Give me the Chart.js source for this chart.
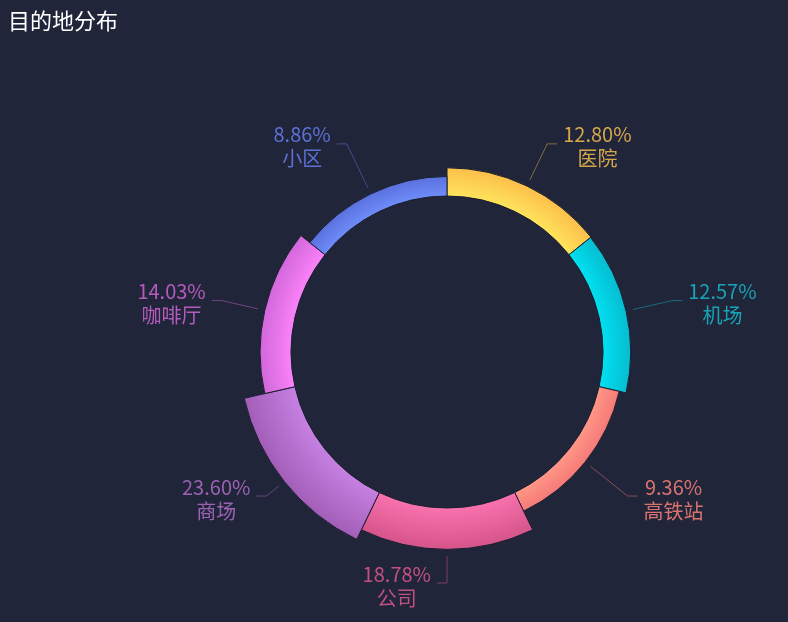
<!DOCTYPE html>
<html lang="zh-CN">
<head>
<meta charset="utf-8">
<title>目的地分布</title>
<script src="https://cdn.jsdelivr.net/npm/chart.js@4.4.0/dist/chart.umd.min.js"></script>
<style>
  html, body { margin: 0; padding: 0; background: #20253a; }
  #wrap { position: relative; width: 788px; height: 622px; }
</style>
</head>
<body>
<div id="wrap"><canvas id="destChart" width="788" height="622"></canvas></div>
<script>
// ── 데이터 (12시 방향부터 시계방향) ─────────────────────────
const titleText = '目的地分布';
const categories = ['医院', '机场', '高铁站', '公司', '商场', '咖啡厅', '小区'];
const shares = [12.80, 12.57, 9.36, 18.78, 23.60, 14.03, 8.86];

// 안쪽(밝음) → 바깥쪽(어두움) 그라데이션
const innerColors = ['#ffe35c', '#00e0f0', '#ff9686', '#f872ad', '#c680e2', '#fa82f8', '#6e8cf8'];
const outerColors = ['#fcbf4a', '#07bcd0', '#f57a78', '#d5548a', '#a25eb7', '#d267db', '#5a71de'];
const labelColors = ['#d6a74a', '#17a4b6', '#d9736f', '#c25080', '#9c62b2', '#b45bbd', '#5d70d4'];

const FONT = '"Noto Sans CJK SC", "Noto Sans", sans-serif';
const LINE1 = 23;   // 가장 큰 링 바깥으로 꺾이는 지점까지
const LINE2 = 10;   // 수평 구간

(function() {
  'use strict';

  const max = Math.max(...shares);
  // 반지름 축: 0 값이 안쪽 원(75%)에 오도록 음수 min
  const rMin = -max * 3;

  // rose(area) 스타일: 안쪽 반지름 고정 + 방사형 그라데이션
  const rosePlugin = {
    id: 'rose',
    afterDatasetUpdate(chart, args) {
      const scale = chart.scales.r;
      const inner = scale.getDistanceFromCenterForValue(0);
      args.meta.data.forEach((arc, i) => {
        arc.innerRadius = inner;
        const g = chart.ctx.createRadialGradient(arc.x, arc.y, inner, arc.x, arc.y, arc.outerRadius);
        g.addColorStop(0, innerColors[i]);
        g.addColorStop(1, outerColors[i]);
        arc.options = Object.assign({}, arc.options, { backgroundColor: g });
      });
    },
    afterDatasetsDraw(chart) {
      const { ctx } = chart;
      const scale = chart.scales.r;
      const bendRadius = scale.drawingArea + LINE1;
      const arcs = chart.getDatasetMeta(0).data;
      const total = shares.reduce((a, b) => a + b, 0);
      ctx.save();
      arcs.forEach((arc, i) => {
        const theta = (arc.startAngle + arc.endAngle) / 2;   // 0 = 3시 방향
        const sx = Math.cos(theta), sy = Math.sin(theta);
        const r0 = arc.outerRadius + 7;
        const x0 = arc.x + sx * r0, y0 = arc.y + sy * r0;
        const x1 = arc.x + sx * bendRadius, y1 = arc.y + sy * bendRadius;
        const dir = sx > 1e-6 ? 1 : -1;
        const x2 = x1 + dir * LINE2;

        ctx.globalAlpha = 0.55;
        ctx.strokeStyle = labelColors[i];
        ctx.lineWidth = 1;
        ctx.beginPath();
        ctx.moveTo(x0, y0);
        ctx.lineTo(x1, y1);
        ctx.lineTo(x2, y1);
        ctx.stroke();
        ctx.globalAlpha = 1;

        const pct = (shares[i] / total * 100).toFixed(2) + '%';
        ctx.font = '20px ' + FONT;
        const w = Math.max(ctx.measureText(pct).width, ctx.measureText(categories[i]).width);
        const cx = x2 + dir * (6 + w / 2);
        ctx.fillStyle = labelColors[i];
        ctx.textAlign = 'center';
        ctx.textBaseline = 'middle';
        ctx.fillText(pct, cx, y1 - 9);
        ctx.fillText(categories[i], cx, y1 + 15);
      });

      ctx.font = '22px ' + FONT;
      ctx.fillStyle = '#ffffff';
      ctx.textAlign = 'left';
      ctx.textBaseline = 'middle';
      ctx.fillText(titleText, 8, 21);
      ctx.restore();
    }
  };

  new Chart(document.getElementById('destChart'), {
    type: 'polarArea',
    data: {
      labels: categories,
      datasets: [{
        data: shares,
        backgroundColor: outerColors,
        borderColor: '#1b1f30',
        borderWidth: 1
      }]
    },
    options: {
      responsive: false,
      animation: false,
      events: [],
      layout: { padding: { left: 239, right: 133, top: 144, bottom: 62 } },
      scales: {
        r: {
          min: rMin,
          max: max,
          display: false,
          ticks: { display: false },
          grid: { display: false },
          pointLabels: { display: false }
        }
      },
      plugins: {
        legend: { display: false },
        tooltip: { enabled: false },
        title: { display: false }
      }
    },
    plugins: [rosePlugin]
  });
})();
</script>
</body>
</html>
